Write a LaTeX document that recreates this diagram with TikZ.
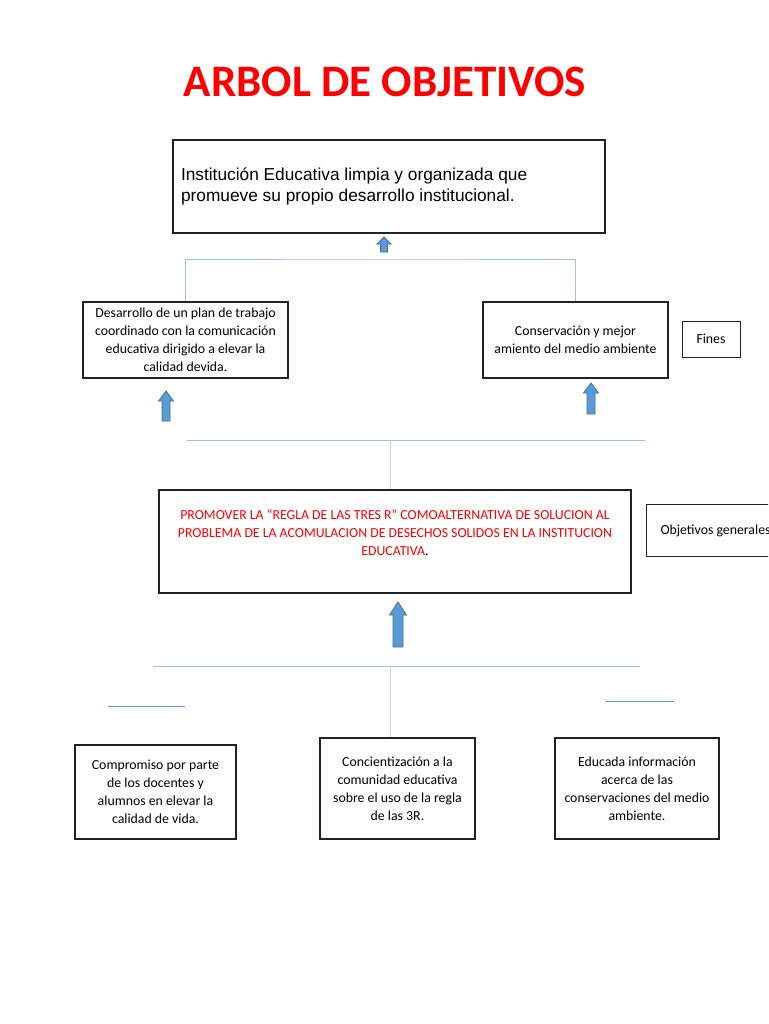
\documentclass[tikz,border=0pt]{standalone}
\usepackage{fontspec}
\setmainfont{Carlito}
\newfontfamily\arialf{Liberation Sans}
\definecolor{boxline}{HTML}{222222}
\definecolor{linkblue}{HTML}{9DC3E6}
\definecolor{paleblue}{HTML}{BDD7EE}
\definecolor{midblue}{HTML}{5B9BD5}
\definecolor{arrowfill}{HTML}{5B9BD5}
\definecolor{arrowedge}{HTML}{41719C}
\definecolor{titlered}{HTML}{FF0000}
\newcommand\blockarrow[6]{% x, ytop, ybottom, shaft half width, head half width, head length
  \fill[arrowfill,draw=arrowedge,line width=0.8pt]
    (#1,#2) -- (#1+#5,#2+#6) -- (#1+#4,#2+#6) -- (#1+#4,#3) -- (#1-#4,#3)
    -- (#1-#4,#2+#6) -- (#1-#5,#2+#6) -- cycle;}
\tikzset{
  box/.style={draw=boxline, line width=1.3pt, inner sep=0pt, align=center,
    font=\fontsize{13.8}{18}\selectfont},
  link/.style={draw=linkblue, line width=1pt},
  palelink/.style={draw=paleblue, line width=1pt},
  shortlink/.style={draw=midblue, line width=1pt},
}
\begin{document}
\begin{tikzpicture}[x=1pt,y=-1pt]
\useasboundingbox (0,0) rectangle (768,1024);
\clip (0,0) rectangle (768,1024);
\fill[white] (0,0) rectangle (768,1024);
% title
\node[text=titlered, font=\fontsize{45}{50}\selectfont\bfseries] (title) at (385,82) {ARBOL DE OBJETIVOS};
% top box
\node[box, minimum width=432pt, minimum height=93pt, align=flush left, text width=416pt,
  font=\arialf\fontsize{17.3}{21}\selectfont] (top) at (389,186.5)
  {Institución Educativa limpia y organizada que\\promueve su propio desarrollo institucional.};
% fines level
\node[box, minimum width=205pt, minimum height=76pt] (L1) at (185.5,340)
  {Desarrollo de un plan de trabajo\\coordinado con la comunicación\\educativa dirigido a elevar la\\calidad devida.};
\node[box, minimum width=185pt, minimum height=76pt] (R1) at (575.5,340)
  {Conservación y mejor\\amiento del medio ambiente};
\node[box, line width=1pt, minimum width=58pt, minimum height=36pt] (fines) at (711,339) {Fines};
% connectors to top
\coordinate (topbar) at (380,259);
\draw[link] (L1.north) |- (topbar) -| (R1.north);
\blockarrow{384}{237}{252}{3.5}{7}{7}
\blockarrow{166}{391}{421}{4}{7.5}{10}
\blockarrow{591}{383}{414}{4}{7.5}{10}
% middle bar
\coordinate (m1) at (187,440);
\coordinate (m2) at (645,440);
\coordinate (mj) at (390,440);
\draw[link] (m1) -- (m2);
% main box
\node[box, minimum width=472pt, minimum height=103pt, text=titlered] (main) at (395,541.5)
  {PROMOVER LA “REGLA DE LAS TRES R” COMOALTERNATIVA DE SOLUCION AL\\PROBLEMA DE LA ACOMULACION DE DESECHOS SOLIDOS EN LA INSTITUCION\\EDUCATIVA{\color{black}.}\\\mbox{}};
\draw[palelink] (mj) -- (mj |- main.north);
\node[box, line width=1pt, minimum width=140pt, minimum height=52pt, anchor=north west,
  align=flush left, text width=140pt] (obj) at (646,504)
  {\hspace*{14pt}Objetivos generales};
\blockarrow{398}{602}{647}{5}{8.5}{13}
% bottom bar
\coordinate (b1) at (153,666);
\coordinate (b2) at (640,666);
\coordinate (bj) at (390,666);
\draw[link] (b1) -- (b2);
\coordinate (s1) at (108,706);
\coordinate (s2) at (185,706);
\coordinate (s3) at (606,701);
\coordinate (s4) at (674,701);
\draw[shortlink] (s1) -- (s2);
\draw[shortlink] (s3) -- (s4);
% bottom boxes
\node[box, line width=1.6pt, minimum width=161pt, minimum height=94pt] (B1) at (155.5,792)
  {Compromiso por parte\\de los docentes y\\alumnos en elevar la\\calidad de vida.};
\node[box, minimum width=155pt, minimum height=101pt] (B2) at (397.5,788.5)
  {Concientización a la\\comunidad educativa\\sobre el uso de la regla\\de las 3R.};
\node[box, minimum width=164pt, minimum height=101pt] (B3) at (637,788.5)
  {Educada información\\acerca de las\\conservaciones del medio\\ambiente.};
\draw[palelink] (bj) -- (bj |- B2.north);
\end{tikzpicture}
\end{document}
